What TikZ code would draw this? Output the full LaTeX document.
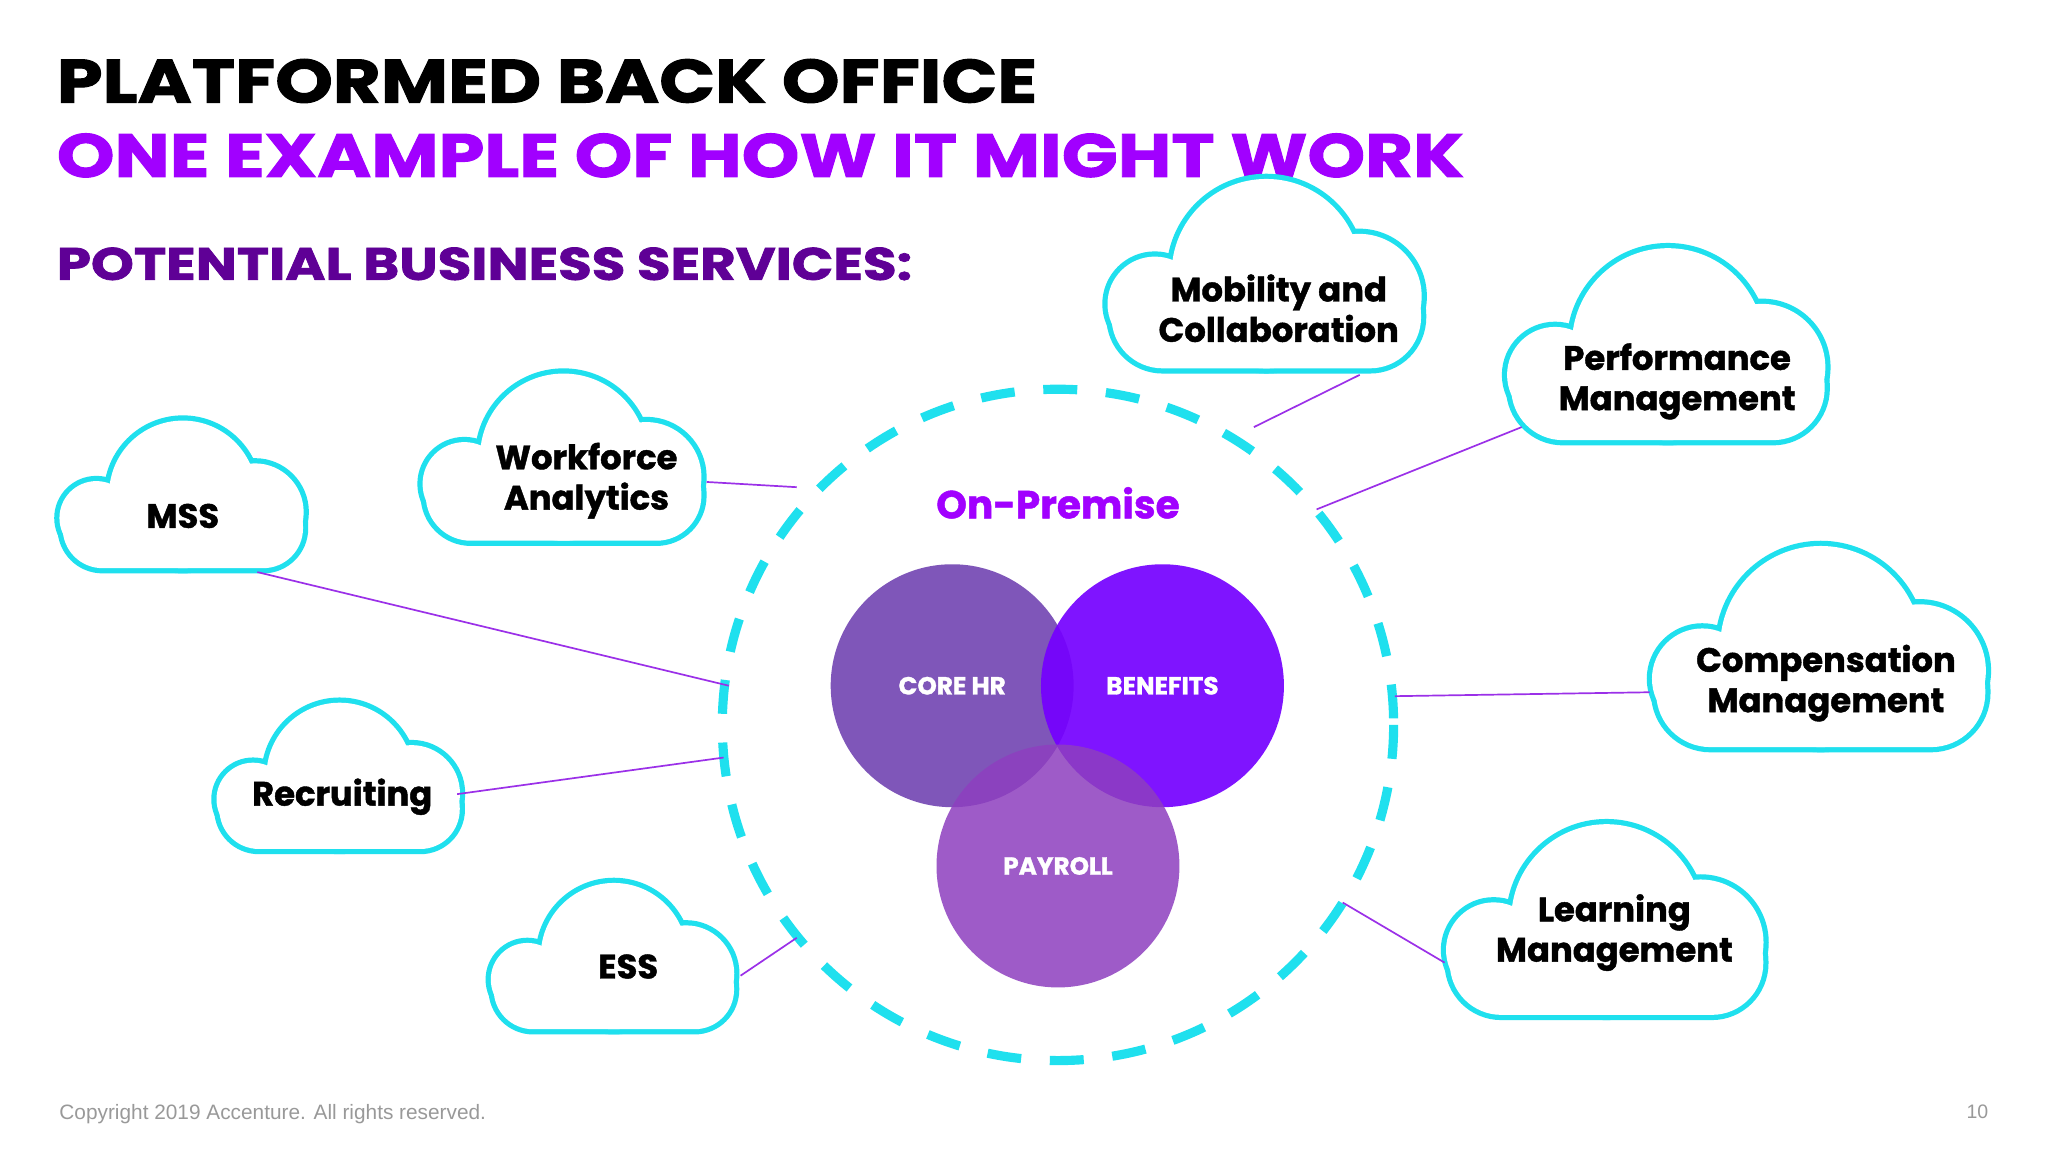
\documentclass[tikz,border=0pt]{standalone}
\usepackage{fontspec}
\setmainfont{Poppins}
\newfontfamily\heavy{Poppins}[UprightFont=* Bold, FakeBold=1.6, FakeStretch=1.2]
\newfontfamily\heavyn{Poppins}[UprightFont=* Bold, FakeBold=1.2]
\newfontfamily\plainfont{Liberation Sans}
\definecolor{cyanc}{HTML}{1FE0EE}
\definecolor{linep}{HTML}{9B30E8}
\definecolor{ttlp}{HTML}{A100FF}
\definecolor{subp}{HTML}{5F0096}
\definecolor{vcore}{HTML}{6E3FB0}
\definecolor{vben}{HTML}{7500FF}
\definecolor{vpay}{HTML}{8E3FBF}
\newcommand\mycloud[4]{%
 \pgfmathsetmacro\cw{#3-#1}\pgfmathsetmacro\ch{#4-#2}%
 \pgfmathsetmacro\ry{#2+0.45*\ch}\pgfmathsetmacro\rr{0.27*\ch}%
 \pgfmathsetmacro\bx{#1+0.5*\cw}\pgfmathsetmacro\by{#2+0.5*\ch}\pgfmathsetmacro\br{0.5*\ch}%
 \pgfmathsetmacro\rx{#1+0.8*\cw}\pgfmathsetmacro\rcy{#2+0.62*\ch}\pgfmathsetmacro\rrad{0.33*\ch}%
 \pgfmathsetmacro\lx{#1+0.14*\cw}\pgfmathsetmacro\lcy{#2+0.66*\ch}\pgfmathsetmacro\lrad{0.25*\ch}%
 \path[draw=cyanc,line width=8bp,rounded corners=\rr bp] (#1,\ry) rectangle (#3,#4);
 \path[draw=cyanc,line width=8bp] (\bx,\by) circle[radius=\br] (\rx,\rcy) circle[radius=\rrad] (\lx,\lcy) circle[radius=\lrad];
 \path[fill=white,rounded corners=\rr bp] (#1,\ry) rectangle (#3,#4);
 \path[fill=white] (\bx,\by) circle[radius=\br];
 \path[fill=white] (\rx,\rcy) circle[radius=\rrad];
 \path[fill=white] (\lx,\lcy) circle[radius=\lrad];
}
\tikzset{lbl/.style={font=\heavyn\fontsize{26}{31}\selectfont,align=center,text=black},
 conn/.style={draw=linep,line width=1.3bp},
 venn/.style={text=white,font=\heavyn\fontsize{19}{22}\selectfont}}
\begin{document}
\begin{tikzpicture}[x=1bp,y=-1bp]
\useasboundingbox[fill=white] (0,0) rectangle (1568,882);
\node[anchor=west,font=\heavy\fontsize{47}{50}\selectfont] (t1) at (40,62) {PLATFORMED BACK OFFICE};
\node[anchor=west,font=\heavy\fontsize{47}{50}\selectfont,text=ttlp] (t2) at (40,119) {ONE EXAMPLE OF HOW IT MIGHT WORK};
\node[anchor=west,font=\heavy\fontsize{35}{38}\selectfont,text=subp] (t3) at (40,202) {POTENTIAL BUSINESS SERVICES:};
\node[anchor=west,font=\plainfont\fontsize{16}{18}\selectfont,text=gray!80] (cp) at (42,853) {Copyright 2019 Accenture. All rights reserved.};
\node[font=\plainfont\fontsize{15}{18}\selectfont,text=gray!80] (pg) at (1514,851) {10};
\draw[cyanc,line width=7bp,dash pattern=on 26bp off 22bp] (810,555) circle[radius=257];
\node[font=\heavyn\fontsize{30}{34}\selectfont,text=ttlp] (op) at (810,385) {On-Premise};
\fill[vcore,fill opacity=0.88] (729,525) circle[radius=93];
\fill[vben,fill opacity=0.92] (890,525) circle[radius=93];
\fill[vpay,fill opacity=0.85] (810,663) circle[radius=93];
\node[venn] (core) at (729,525) {CORE HR};
\node[venn] (ben) at (890,525) {BENEFITS};
\node[venn] (pay) at (810,663) {PAYROLL};
\mycloud{48}{322}{232}{435}
\mycloud{326}{286}{537}{414}
\mycloud{168}{538}{352}{650}
\mycloud{378}{676}{562}{788}
\mycloud{851}{137}{1088}{282}
\mycloud{1157}{190}{1397}{337}
\mycloud{1268}{418}{1520}{572}
\mycloud{1110}{631}{1350}{777}
\node[lbl] (mss) at (140,395) {MSS};
\node[lbl] (wa) at (449,368) {Workforce\\Analytics};
\node[lbl] (rec) at (262,610) {Recruiting};
\node[lbl] (ess) at (481,740) {ESS};
\node[lbl] (mob) at (979,236) {Mobility and\\Collaboration};
\node[lbl] (perf) at (1284,292) {Performance\\Management};
\node[lbl] (comp) at (1398,523) {Compensation\\Management};
\node[lbl] (learn) at (1236,714) {Learning\\Management};
\coordinate (a1) at (197,438); \coordinate (b1) at (558,525);
\coordinate (a2) at (541,369); \coordinate (b2) at (610,373);
\coordinate (a3) at (350,608); \coordinate (b3) at (554,580);
\coordinate (a4) at (567,747); \coordinate (b4) at (610,718);
\coordinate (a5) at (1041,287); \coordinate (b5) at (960,327);
\coordinate (a6) at (1165,327); \coordinate (b6) at (1008,390);
\coordinate (a7) at (1263,530); \coordinate (b7) at (1068,533);
\coordinate (a8) at (1106,737); \coordinate (b8) at (1028,691);
\foreach \i in {1,...,8} \draw[conn] (a\i) -- (b\i);
\end{tikzpicture}
\end{document}
